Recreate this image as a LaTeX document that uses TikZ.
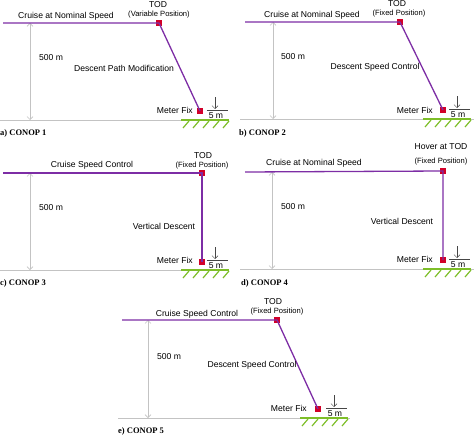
\documentclass[tikz,border=0pt]{standalone}
\usepackage{fontspec}
\setmainfont{Liberation Sans}
\newfontfamily\capfont{Liberation Serif}
\usetikzlibrary{arrows.meta}
\definecolor{flightc}{RGB}{125,45,165}
\definecolor{fixred}{RGB}{210,0,40}
\definecolor{grnd}{RGB}{125,190,40}
\definecolor{lgrey}{RGB}{195,195,195}
\definecolor{dgrey}{RGB}{70,70,70}
\tikzset{
 flight/.style={draw=flightc, line width=1.3pt},
 fixpt/.style={fill=fixred, minimum size=5.5pt, inner sep=0pt},
 lbl/.style={font=\fontsize{8.6}{10}\selectfont, inner sep=0pt},
 smalllbl/.style={font=\fontsize{7.6}{9}\selectfont, inner sep=0pt},
 caplbl/.style={font=\capfont\bfseries\fontsize{8.5}{10}\selectfont, inner sep=0pt, anchor=west},
 dimline/.style={draw=lgrey, line width=0.6pt, {Straight Barb[length=3pt,width=6pt]}-{Straight Barb[length=3pt,width=6pt]}},
 groundline/.style={draw=lgrey, line width=0.8pt},
 hatch/.style={draw=grnd, line width=1.2pt},
 tickarrow/.style={draw=dgrey, line width=0.5pt, -{Straight Barb[length=3pt,width=6pt]}},
 tickline/.style={draw=dgrey, line width=0.5pt},
}
% #1 prefix, #2 ground y, #3 ground left x, #4 ground right x, #5 arrow x, #6 cruise y
\newcommand\panelbase[6]{%
  \coordinate (#1gl) at (#3,#2);
  \coordinate (#1gr) at (#4,#2);
  \draw[groundline] (#1gl) -- (#1gr);
  \coordinate (#1dt) at (#5,#6);
  \coordinate (#1db) at (#5,#2);
  \draw[dimline] (#1dt) -- (#1db);
  \coordinate (#1hl) at (181,#2);
  \coordinate (#1hr) at (229,#2);
  \draw[hatch] (#1hl) -- (#1hr);
  \foreach \i in {0,...,4} {\draw[hatch] (183+10*\i,#2+8) -- (189+10*\i,#2+1);}
  \coordinate (#1mt) at (215,#2-23);
  \coordinate (#1mb) at (215,#2-11);
  \draw[tickarrow] (#1mt) -- (#1mb);
  \coordinate (#1ml) at (207,#2-10);
  \coordinate (#1mr) at (228,#2-10);
  \draw[tickline] (#1ml) -- (#1mr);
  \node[lbl] (#1five) at (216,#2-4.5) {5 m};
}
\begin{document}
\begin{tikzpicture}[x=1pt,y=-1pt]
\useasboundingbox (0,0) rectangle (474,436);
% ---------- a) CONOP 1
\begin{scope}
  \panelbase{a}{120}{0}{229}{30}{23}
  \coordinate (aS) at (3,23);
  \node[fixpt] (aTOD) at (159,23) {};
  \node[fixpt] (aMF) at (200,111) {};
  \draw[flight] (aS) -- (aTOD.center) -- (aMF.center);
  \node[lbl] (acr) at (66,16) {Cruise at Nominal Speed};
  \node[lbl] (atod) at (158,5) {TOD};
  \node[smalllbl] (avp) at (159,14.5) {(Variable Position)};
  \node[lbl] (a500) at (51,58) {500 m};
  \node[lbl] (adesc) at (124,68) {Descent Path Modification};
  \node[lbl,anchor=east] (amf) at (193,110) {Meter Fix};
  \node[caplbl] (acap) at (0,133) {a) CONOP 1};
\end{scope}
% ---------- b) CONOP 2
\begin{scope}[shift={(242,-1)}]
  \panelbase{b}{120}{-2}{232}{31}{23}
  \coordinate (bS) at (3,23);
  \node[fixpt] (bTOD) at (158,23) {};
  \node[fixpt] (bMF) at (201,111) {};
  \draw[flight] (bS) -- (bTOD.center) -- (bMF.center);
  \node[lbl] (bcr) at (70,16) {Cruise at Nominal Speed};
  \node[lbl] (btod) at (155,5) {TOD};
  \node[smalllbl] (bfp) at (157,15) {(Fixed Position)};
  \node[lbl] (b500) at (51,58) {500 m};
  \node[lbl] (bdesc) at (133,68) {Descent Speed Control};
  \node[lbl,anchor=east] (bmf) at (191,111) {Meter Fix};
  \node[caplbl] (bcap) at (-3,134) {b) CONOP 2};
\end{scope}
% ---------- c) CONOP 3
\begin{scope}[shift={(0,150)}]
  \panelbase{c}{120}{0}{229}{30}{23}
  \coordinate (cS) at (3,23);
  \node[fixpt] (cTOD) at (202,23) {};
  \node[fixpt] (cMF) at (202,112) {};
  \draw[flight] (cS) -- (cTOD.center) -- (cMF.center);
  \node[lbl] (ccr) at (92,15) {Cruise Speed Control};
  \node[lbl] (ctod) at (203,6) {TOD};
  \node[smalllbl] (cfp) at (202,15.5) {(Fixed Position)};
  \node[lbl] (c500) at (51,58) {500 m};
  \node[lbl] (cdesc) at (164,76) {Vertical Descent};
  \node[lbl,anchor=east] (cmf) at (193,110) {Meter Fix};
  \node[caplbl] (ccap) at (0,133) {c) CONOP 3};
\end{scope}
% ---------- d) CONOP 4
\begin{scope}[shift={(242,149)}]
  \panelbase{d}{120}{-2}{232}{30}{23}
  \coordinate (dS) at (3,23);
  \node[fixpt] (dTOD) at (201,22) {};
  \node[fixpt] (dMF) at (201,111) {};
  \draw[flight] (dS) -- (dTOD.center) -- (dMF.center);
  \node[lbl] (dcr) at (72,14) {Cruise at Nominal Speed};
  \node[lbl] (dtod) at (199,-2) {Hover at TOD};
  \node[smalllbl] (dfp) at (199,13) {(Fixed Position)};
  \node[lbl] (d500) at (51,58) {500 m};
  \node[lbl] (ddesc) at (160,72) {Vertical Descent};
  \node[lbl,anchor=east] (dmf) at (191,110) {Meter Fix};
  \node[caplbl] (dcap) at (-1,134) {d) CONOP 4};
\end{scope}
% ---------- e) CONOP 5
\begin{scope}[shift={(119,297)}]
  \panelbase{e}{121}{-1}{231}{29}{23}
  \coordinate (eS) at (3,23);
  \node[fixpt] (eTOD) at (158,23) {};
  \node[fixpt] (eMF) at (199,112) {};
  \draw[flight] (eS) -- (eTOD.center) -- (eMF.center);
  \node[lbl] (ecr) at (78,17) {Cruise Speed Control};
  \node[lbl] (etod) at (154,5) {TOD};
  \node[smalllbl] (efp) at (158,15) {(Fixed Position)};
  \node[lbl] (e500) at (50,60) {500 m};
  \node[lbl] (edesc) at (133,68) {Descent Speed Control};
  \node[lbl,anchor=east] (emf) at (188,111) {Meter Fix};
  \node[caplbl] (ecap) at (-1,134) {e) CONOP 5};
\end{scope}
\end{tikzpicture}
\end{document}
